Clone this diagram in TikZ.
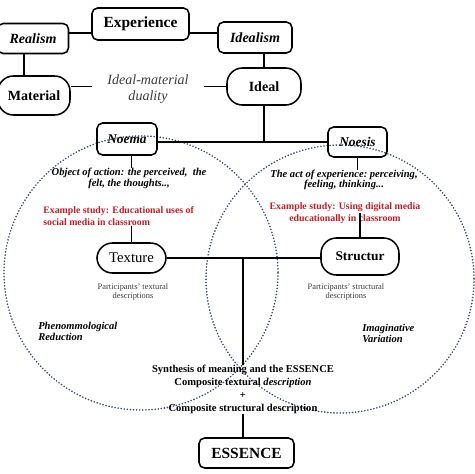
\documentclass[tikz,border=0pt]{standalone}
\usepackage{fontspec}
\setmainfont{Liberation Serif}
\usetikzlibrary{positioning}
\definecolor{redtxt}{RGB}{196,28,36}
\definecolor{dotcol}{RGB}{60,75,115}
\definecolor{graytxt}{RGB}{60,60,60}
\newcommand{\fs}[2]{\fontsize{#1}{#2}\selectfont}
\tikzset{
  box/.style={draw,line width=1.1pt,rounded corners=4pt,inner sep=0pt},
  pill/.style={draw,line width=1.1pt,rounded corners=11pt,inner sep=0pt},
  txt/.style={inner sep=0pt,align=center},
  ring/.style={dotcol,line width=1.3pt,dash pattern=on 0pt off 2.2pt,line cap=round},
  link/.style={line width=0.9pt},
}
\begin{document}
\begin{tikzpicture}[x=0.25mm,y=-0.25mm]
    \useasboundingbox (0,0) rectangle (474,474);
    % the two dotted fields
    \draw[ring](141,273) circle[radius=137];
    \draw[ring](340,279) circle[radius=134];
    % top row
    \node[box,font=\bfseries\fs{11}{13},minimum width=24.25mm,minimum height=8mm] (experience) at (140.5,24) {Experience};
    \node[box,font=\bfseries\itshape\fs{10}{12},minimum width=17.75mm,minimum height=7.5mm] (realism) at (33,38.5) {Realism};
    \node[box,font=\bfseries\itshape\fs{10}{12},minimum width=18.5mm,minimum height=7.75mm] (idealism) at (255,37.5) {Idealism};
    \node[pill,font=\bfseries\fs{10}{12},minimum width=18mm,minimum height=9.75mm] (material) at (34,95.5) {Material};
    \node[pill,font=\bfseries\fs{10}{12},minimum width=18.5mm,minimum height=9.25mm] (ideal) at (264,86.5) {Ideal};
    \node[txt,font=\itshape\fs{10}{11},text=graytxt,minimum width=28mm] (duality) at (148,89) {Ideal-material\\duality};
    \coordinate (topline) at (0,33);
    \coordinate (rm) at (24,0);
    \draw[link](realism.east |- topline)--(experience.west |- topline);
    \draw[link](experience.east |- topline)--(idealism.west |- topline);
    \draw[link](realism.south -| rm)--(material.north -| rm);
    \draw[link](ideal.north)--(ideal.north |- idealism.south);
    \draw[link](material.east |- ideal.west)--(duality.west |- ideal.west);
    \draw[link](duality.east |- ideal.west)--(ideal.west);
    % noema and noesis
    \node[box,font=\bfseries\itshape\fs{9.5}{11},minimum width=15mm,minimum height=8mm] (noema) at (127,139) {Noema};
    \node[box,font=\bfseries\itshape\fs{9.5}{11},minimum width=14.75mm,minimum height=7.5mm] (noesis) at (357.5,142) {Noesis};
    \draw[link](ideal.south)--(ideal.south |- noesis.west);
    \draw[link](noema.east |- noesis.west)--(noesis.west);
    \node[txt,font=\bfseries\itshape\fs{7.5}{7.9}] (object) at (129,178.5) {Object of action: the perceived,\ \ the\\felt, the thoughts..,};
    \node[txt,font=\bfseries\itshape\fs{7.5}{7.2}] (act) at (344,180) {The act of experience:\ perceiving,\\feeling, thinking...};
    \node[txt,align=left,anchor=west,text=redtxt,font=\bfseries\fs{7}{8.5}] (redL) at (43,216) {Example study: Educational uses of\\social media in classroom};
    \node[txt,text=redtxt,font=\bfseries\fs{7}{8.5}] (redR) at (345,213) {Example study: Using digital media\\educationally in classroom};
    % texture and structure
    \node[pill,font=\fs{10.5}{12},minimum width=17.25mm,minimum height=7.5mm] (texture) at (131.5,258) {Texture};
    \node[pill,font=\bfseries\fs{9.5}{11},minimum width=19.5mm,minimum height=9.25mm] (structur) at (360,256.5) {Structur};
    \draw[link](noema.south -| texture)--(texture |- object.north);
    \draw[link](noesis.south)--(noesis.south |- act.north);
    \draw[link](texture.north)--(texture.north |- redL.south);
    \draw[link](structur.north)--(structur.north |- redR.center);
    \draw[link](texture.east)--(structur.west |- texture.east);
    \node[txt,text=graytxt,font=\fs{6}{6.4}] (partT) at (133,291.5) {Participants' textural\\descriptions};
    \node[txt,text=graytxt,font=\fs{6}{6.4}] (partS) at (346,292) {Participants' structural\\descriptions};
    \node[txt,align=left,anchor=west,font=\bfseries\itshape\fs{7.5}{7.8}] (phen) at (38,331.5) {Phenommological\\Reduction};
    \node[txt,align=left,anchor=west,font=\bfseries\itshape\fs{7.5}{7.8}] (imag) at (362,333) {Imaginative\\Variation};
    % synthesis
    \node[txt,font=\bfseries\fs{7.5}{9.2}] (synth) at (243,389.5) {Synthesis of meaning and the ESSENCE\\Composite textural \textit{description}\\+\\Composite structural description};
    \node[box,font=\bfseries\fs{11}{13},minimum width=23.75mm,minimum height=7.5mm] (essence) at (246.5,453) {ESSENCE};
    \draw[link](synth.north |- texture.east)--(synth.north);
    \draw[link](synth.south)--(synth.south |- essence.north);
\end{tikzpicture}
\end{document}
